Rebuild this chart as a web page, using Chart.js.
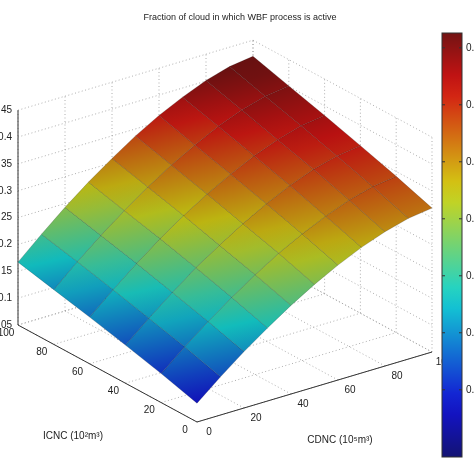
<!DOCTYPE html>
<html>
<head>
<meta charset="utf-8">
<script src="https://cdn.jsdelivr.net/npm/chart.js@4/dist/chart.umd.min.js"></script>
<style>
  body { margin: 0; background: #fff; }
  canvas { display: block; }
</style>
</head>
<body>
<canvas id="surf" width="474" height="474"></canvas>
<script>
// grid of the surface
const cdncValues = [0, 10, 20, 30, 40, 50, 60, 70, 80, 90, 100];
const icncValues = [0, 20, 40, 60, 80, 100];
// fraction of cloud with active WBF, one row per ICNC value
const wbfFraction = [
  [0.085, 0.121, 0.155, 0.186, 0.215, 0.241, 0.264, 0.284, 0.300, 0.312, 0.318],
  [0.104, 0.141, 0.175, 0.207, 0.236, 0.263, 0.286, 0.306, 0.323, 0.335, 0.341],
  [0.121, 0.158, 0.193, 0.226, 0.255, 0.282, 0.306, 0.327, 0.344, 0.356, 0.362],
  [0.137, 0.175, 0.211, 0.244, 0.274, 0.301, 0.325, 0.346, 0.363, 0.376, 0.382],
  [0.152, 0.191, 0.227, 0.260, 0.291, 0.319, 0.343, 0.365, 0.382, 0.395, 0.401],
  [0.167, 0.206, 0.243, 0.277, 0.308, 0.337, 0.362, 0.383, 0.401, 0.414, 0.420]
];
const zTicks = [0.05, 0.1, 0.15, 0.2, 0.25, 0.3, 0.35, 0.4, 0.45];
const zTickLabels = ['.05', '0.1', '.15', '0.2', '.25', '0.3', '.35', '0.4', '.45'];
const xyTicks = [0, 20, 40, 60, 80, 100];
const cbarTicks = [0.1, 0.15, 0.2, 0.25, 0.3, 0.35, 0.4];
const cbarLabels = ['0.', '0.', '0.', '0.', '0.', '0.', '0.4'];
const cmapMin = 0.041, cmapMax = 0.413;

// simple 3D view: origin of the box on the page and axis directions
const view = { ox: 197, oy: 422, ex: [2.35, -0.70], ey: [-1.79, -0.97], ez: -537, zBase: 0.05 };
function project(cdnc, icnc, z) {
  return {
    x: view.ox + cdnc * view.ex[0] + icnc * view.ey[0],
    y: view.oy + cdnc * view.ex[1] + icnc * view.ey[1] + (z - view.zBase) * view.ez
  };
}

// jet colour map, a little muted like the printed figure; shade < 1 darkens
function jet(v, shade) {
  shade = shade || 1;
  const t = Math.max(0, Math.min(1, (v - cmapMin) / (cmapMax - cmapMin)));
  const f = x => Math.max(0, Math.min(1, x));
  let r = f(1.5 - Math.abs(4 * t - 3));
  let g = f(1.5 - Math.abs(4 * t - 2));
  let b = f(1.5 - Math.abs(4 * t - 1));
  const m = 0.18; // mix toward grey
  const c = x => Math.round(255 * shade * ((1 - m) * x + m * 0.45));
  return `rgb(${c(r)},${c(g)},${c(b)})`;
}

const datasets = [];

// dotted grid on the back walls and floor
function gridLine(a, b) {
  datasets.push({
    type: 'line', data: [a, b], borderColor: '#9a9a9a', borderWidth: 0.8,
    borderDash: [1, 2.5], pointRadius: 0, fill: false, order: 1000
  });
}
zTicks.forEach(z => {
  gridLine(project(0, 100, z), project(100, 100, z));
  gridLine(project(100, 100, z), project(100, 0, z));
});
xyTicks.forEach(v => {
  gridLine(project(v, 100, 0.05), project(v, 100, 0.45));
  gridLine(project(100, v, 0.05), project(100, v, 0.45));
  gridLine(project(v, 0, 0.05), project(v, 100, 0.05));
  gridLine(project(0, v, 0.05), project(100, v, 0.05));
});

// surface cells, each shaded from its lowest to its highest corner
for (let j = 0; j < icncValues.length - 1; j++) {
  for (let i = 0; i < cdncValues.length - 1; i++) {
    const x0 = cdncValues[i], x1 = cdncValues[i + 1];
    const y0 = icncValues[j], y1 = icncValues[j + 1];
    const corners = [
      { p: project(x0, y0, wbfFraction[j][i]), z: wbfFraction[j][i] },
      { p: project(x1, y0, wbfFraction[j][i + 1]), z: wbfFraction[j][i + 1] },
      { p: project(x1, y1, wbfFraction[j + 1][i + 1]), z: wbfFraction[j + 1][i + 1] },
      { p: project(x0, y1, wbfFraction[j + 1][i]), z: wbfFraction[j + 1][i] }
    ];
    const lo = corners.reduce((a, b) => (b.z < a.z ? b : a));
    const hi = corners.reduce((a, b) => (b.z > a.z ? b : a));
    datasets.push({
      type: 'line',
      data: corners.map(c => c.p).concat([corners[0].p]),
      backgroundColor: (context) => {
        const g = context.chart.ctx.createLinearGradient(lo.p.x, lo.p.y, hi.p.x, hi.p.y);
        g.addColorStop(0, jet(lo.z, 0.82));
        g.addColorStop(0.5, jet((lo.z + hi.z) / 2, 0.82));
        g.addColorStop(1, jet(hi.z, 0.82));
        return g;
      },
      borderColor: 'rgba(0,0,0,0.35)', borderWidth: 0.5,
      pointRadius: 0, fill: 'shape', tension: 0, order: 500 - (x0 + y0)
    });
  }
}

// solid axis lines
function axisLine(a, b) {
  datasets.push({
    type: 'line', data: [a, b], borderColor: '#333', borderWidth: 1,
    pointRadius: 0, fill: false, order: 900
  });
}
axisLine(project(0, 0, 0.05), project(0, 100, 0.05));
axisLine(project(0, 0, 0.05), project(100, 0, 0.05));
axisLine(project(0, 100, 0.05), project(0, 100, 0.45));

const labelsPlugin = {
  id: 'labels',
  afterDraw(chart) {
    const ctx = chart.ctx;
    ctx.save();
    ctx.fillStyle = '#222';
    ctx.font = '9px "Liberation Sans", Arial, sans-serif';
    ctx.textAlign = 'center';
    ctx.textBaseline = 'middle';
    ctx.fillText('Fraction of cloud in which WBF process is active', 240, 18);

    ctx.font = '10px "Liberation Sans", Arial, sans-serif';
    xyTicks.forEach(v => {
      const p = project(0, v, 0.05);
      ctx.fillText(String(v), p.x - 12, p.y + 8);
      const q = project(v, 0, 0.05);
      ctx.fillText(String(v), q.x + 12, q.y + 10);
    });
    ctx.textAlign = 'right';
    zTicks.forEach((z, k) => {
      const p = project(0, 100, z);
      ctx.fillText(zTickLabels[k], p.x - 6, p.y);
    });

    ctx.textAlign = 'center';
    ctx.fillText('ICNC (10\u00b2m\u00b3)', 73, 436);
    ctx.fillText('CDNC (10\u2075m\u00b3)', 340, 440);

    // colour bar
    const top = 33, bottom = 457, left = 442, width = 20;
    const grad = ctx.createLinearGradient(0, bottom, 0, top);
    for (let s = 0; s <= 20; s++) grad.addColorStop(s / 20, jet(cmapMin + (cmapMax - cmapMin) * s / 20, 0.92));
    ctx.fillStyle = grad;
    ctx.fillRect(left, top, width, bottom - top);
    ctx.strokeStyle = '#333';
    ctx.lineWidth = 1;
    ctx.strokeRect(left, top, width, bottom - top);
    ctx.fillStyle = '#222';
    ctx.textAlign = 'left';
    cbarTicks.forEach((t, k) => {
      const y = bottom - (t - cmapMin) / (cmapMax - cmapMin) * (bottom - top);
      ctx.beginPath();
      ctx.moveTo(left, y); ctx.lineTo(left + 3, y);
      ctx.moveTo(left + width, y); ctx.lineTo(left + width - 3, y);
      ctx.stroke();
      ctx.fillText(cbarLabels[k], left + width + 4, y);
    });
    ctx.restore();
  }
};

new Chart(document.getElementById('surf').getContext('2d'), {
  type: 'scatter',
  data: { datasets: datasets },
  options: {
    responsive: false,
    animation: false,
    layout: { padding: 0 },
    plugins: { legend: { display: false }, tooltip: { enabled: false } },
    scales: {
      x: { type: 'linear', min: 0, max: 474, display: false },
      y: { type: 'linear', min: 0, max: 474, reverse: true, display: false }
    }
  },
  plugins: [labelsPlugin]
});
</script>
</body>
</html>
